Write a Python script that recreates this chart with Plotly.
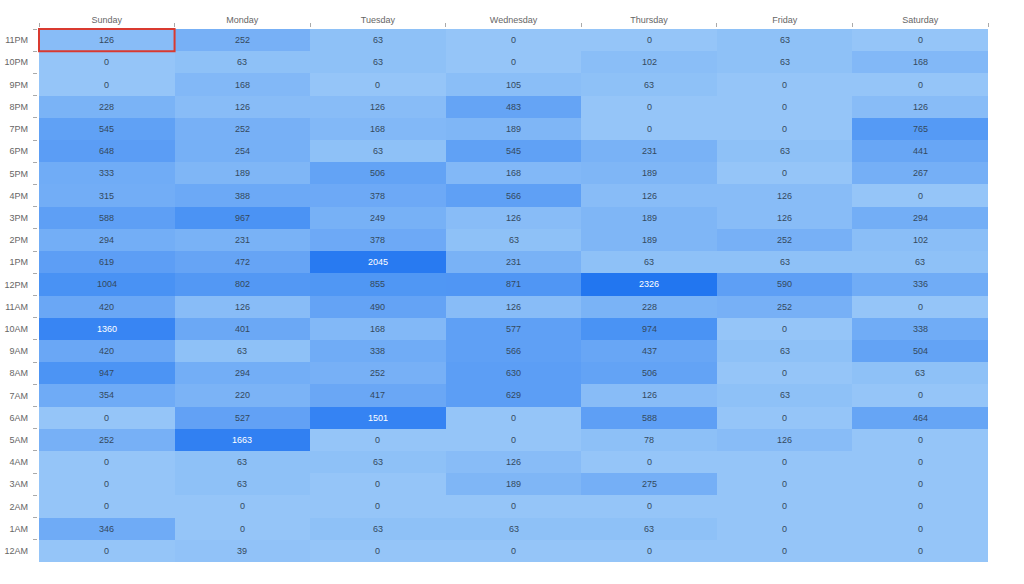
import plotly.graph_objects as go

days = ["Sunday", "Monday", "Tuesday", "Wednesday", "Thursday", "Friday", "Saturday"]
hours = ["11PM", "10PM", "9PM", "8PM", "7PM", "6PM", "5PM", "4PM", "3PM", "2PM", "1PM", "12PM",
         "11AM", "10AM", "9AM", "8AM", "7AM", "6AM", "5AM", "4AM", "3AM", "2AM", "1AM", "12AM"]

row_11pm = [126, 252, 63, 0, 0, 63, 0]
row_10pm = [0, 63, 63, 0, 102, 63, 168]
row_9pm = [0, 168, 0, 105, 63, 0, 0]
row_8pm = [228, 126, 126, 483, 0, 0, 126]
row_7pm = [545, 252, 168, 189, 0, 0, 765]
row_6pm = [648, 254, 63, 545, 231, 63, 441]
row_5pm = [333, 189, 506, 168, 189, 0, 267]
row_4pm = [315, 388, 378, 566, 126, 126, 0]
row_3pm = [588, 967, 249, 126, 189, 126, 294]
row_2pm = [294, 231, 378, 63, 189, 252, 102]
row_1pm = [619, 472, 2045, 231, 63, 63, 63]
row_12pm = [1004, 802, 855, 871, 2326, 590, 336]
row_11am = [420, 126, 490, 126, 228, 252, 0]
row_10am = [1360, 401, 168, 577, 974, 0, 338]
row_9am = [420, 63, 338, 566, 437, 63, 504]
row_8am = [947, 294, 252, 630, 506, 0, 63]
row_7am = [354, 220, 417, 629, 126, 63, 0]
row_6am = [0, 527, 1501, 0, 588, 0, 464]
row_5am = [252, 1663, 0, 0, 78, 126, 0]
row_4am = [0, 63, 63, 126, 0, 0, 0]
row_3am = [0, 63, 0, 189, 275, 0, 0]
row_2am = [0, 0, 0, 0, 0, 0, 0]
row_1am = [346, 0, 63, 63, 63, 0, 0]
row_12am = [0, 39, 0, 0, 0, 0, 0]

z = [row_11pm, row_10pm, row_9pm, row_8pm, row_7pm, row_6pm, row_5pm, row_4pm, row_3pm,
     row_2pm, row_1pm, row_12pm, row_11am, row_10am, row_9am, row_8am, row_7am, row_6am,
     row_5am, row_4am, row_3am, row_2am, row_1am, row_12am]

colorscale = [
    [0.0, "#95C5F8"],
    [0.05, "#89BDF7"],
    [0.11, "#76B0F6"],
    [0.23, "#61A1F5"],
    [0.43, "#4992F4"],
    [0.58, "#3885F3"],
    [1.0, "#2276F0"],
]

fig = go.Figure(go.Heatmap(
    z=z, x=days, y=hours, colorscale=colorscale, showscale=False,
    zmin=0, zmax=2326, hoverinfo="x+y+z",
))

for i, h in enumerate(hours):
    for j, d in enumerate(days):
        v = z[i][j]
        fig.add_annotation(
            x=d, y=h, text=str(v), showarrow=False,
            font=dict(size=9, color="#FFFFFF" if v > 1300 else "#34495E",
                      family="Liberation Sans, Arial, sans-serif"),
        )

# highlight box around Sunday 11PM
fig.add_shape(type="rect", xref="x", yref="y", x0=-0.5, x1=0.5, y0=-0.5, y1=0.5,
              line=dict(color="#D93A30", width=2))

fig.update_layout(
    width=1024, height=584,
    margin=dict(l=38, r=36, t=28, b=22),
    paper_bgcolor="white", plot_bgcolor="white",
    font=dict(family="Liberation Sans, Arial, sans-serif", size=9, color="#666666"),
    xaxis=dict(side="top", tickson="boundaries", ticks="outside", ticklen=4,
               tickcolor="#aaaaaa", showgrid=False, zeroline=False, showline=False,
               ticklabelstandoff=2, automargin=False,
               tickfont=dict(size=9, color="#666666")),
    yaxis=dict(autorange="reversed", tickson="boundaries", ticks="outside", ticklen=4,
               tickcolor="#aaaaaa", showgrid=False, zeroline=False, showline=False,
               ticklabelstandoff=9, automargin=False,
               tickfont=dict(size=9, color="#666666")),
)

fig.write_html("out.html")
